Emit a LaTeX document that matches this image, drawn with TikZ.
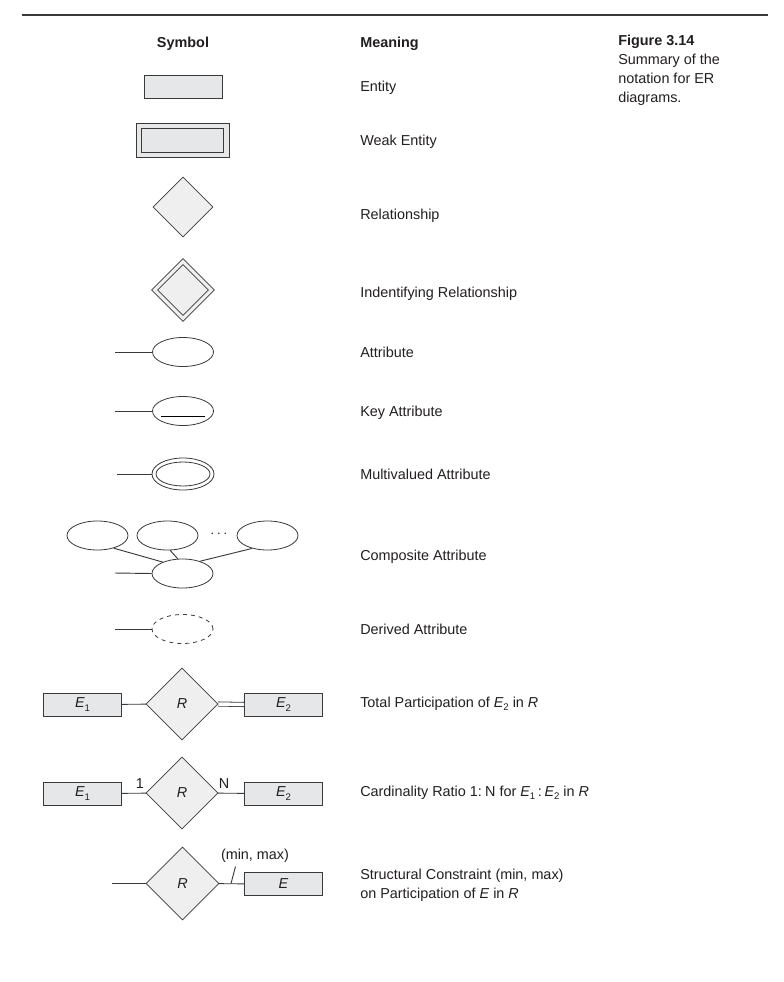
\documentclass[tikz,border=0pt]{standalone}
\usepackage{fontspec}
\setmainfont{Liberation Sans}
\usetikzlibrary{shapes.geometric}
\definecolor{efill}{HTML}{E6E7E8}
\definecolor{dfill}{HTML}{EFEFEF}
\definecolor{ln}{HTML}{3A3A3A}
\definecolor{txt}{HTML}{231F20}
\newcommand{\Ei}[1]{\textit{E}\kern-0.2pt\raisebox{-0.45ex}{\fontsize{7.2}{8}\selectfont #1}}
\begin{document}
\begin{tikzpicture}[x=0.75pt, y=-0.75pt,
  font=\fontsize{10.8}{14.25}\selectfont, text=txt,
  ent/.style={draw=ln, fill=efill, line width=0.7pt, minimum width=78*0.75pt, minimum height=23*0.75pt, inner sep=0},
  rel/.style={diamond, draw=ln, fill=dfill, line width=0.6pt, minimum width=60*0.75pt, minimum height=60*0.75pt, inner sep=0},
  att/.style={ellipse, draw=ln, fill=white, line width=0.6pt, minimum width=61*0.75pt, minimum height=29*0.75pt, inner sep=0},
  lab/.style={anchor=mid west, inner sep=0, yshift=-1.5pt},
  conn/.style={draw=ln, line width=0.7pt}]
\useasboundingbox (0,0) rectangle (784,982);
\fill[white] (0,0) rectangle (784,982);
% top rule
\coordinate (r1) at (22,15); \coordinate (r2) at (768,15);
\draw[line width=0.8pt, draw=ln] (r1) -- (r2);
% headers
\node[inner sep=0, anchor=mid, yshift=-1.5pt] (hsym) at (183,42) {\textbf{Symbol}};
\node[lab] (hmean) at (360,42) {\textbf{Meaning}};
\node[lab] (fig1) at (618,40) {\textbf{Figure 3.14}};
\node[lab] (fig2) at (618,59) {Summary of the};
\node[lab] (fig3) at (618,78) {notation for ER};
\node[lab] (fig4) at (618,97) {diagrams.};
% entity
\node[ent] (ent) at (183,86.5) {};
\node[lab] (mEnt) at (360,86) {Entity};
% weak entity
\node[ent, minimum width=93*0.75pt, minimum height=34*0.75pt] (wk) at (182.5,140) {};
\node[ent, minimum width=82*0.75pt, minimum height=24*0.75pt] (wki) at (wk) {};
\node[lab] (mWk) at (360,140) {Weak Entity};
% relationship
\node[rel] (rl) at (183,207) {};
\node[lab] (mRl) at (360,214) {Relationship};
% identifying relationship
\node[rel, minimum width=63*0.75pt, minimum height=63*0.75pt] (ir) at (183,290) {};
\node[rel, minimum width=51*0.75pt, minimum height=51*0.75pt] (iri) at (ir) {};
\node[lab] (mIr) at (360,292) {Indentifying Relationship};
% attribute
\node[att] (at1) at (183,352) {};
\coordinate (at1s) at (115,352);
\draw[conn] (at1s) -- (at1.west);
\node[lab] (mAt) at (360,352) {Attribute};
% key attribute
\node[att] (ka) at (183,411) {};
\coordinate (kas) at (115,411);
\draw[conn] (kas) -- (ka.west);
\draw[line width=0.9pt, draw=black] ([shift={(-22,5.5)}]ka.center) -- ([shift={(22,5.5)}]ka.center);
\node[lab] (mKa) at (360,411) {Key Attribute};
% multivalued
\node[att, minimum width=62*0.75pt, minimum height=32*0.75pt] (mv) at (183,474) {};
\node[att, minimum width=54*0.75pt, minimum height=24*0.75pt] (mvi) at (mv) {};
\coordinate (mvs) at (117,474);
\draw[conn] (mvs) -- (mv.west);
\node[lab] (mMv) at (360,474) {Multivalued Attribute};
% composite
\node[att] (cA) at (97.5,535.5) {};
\node[att] (cB) at (167.5,535.5) {};
\node[att] (cC) at (267.5,535.5) {};
\node[att] (cM) at (182.5,573.5) {};
\node[inner sep=0] (dots) at (219,534) {$\cdots$};
\coordinate (cs) at (115,573);
\draw[conn] (cs) -- (cM.west);
\draw[conn] (cA.-38) -- (cM.150);
\draw[conn] (cB.-80) -- (cM.108);
\draw[conn] (cC.-140) -- (cM.35);
\node[lab] (mCo) at (360,555) {Composite Attribute};
% derived
\node[att, dashed] (dv) at (182.5,629) {};
\coordinate (dvs) at (115,629);
\draw[conn] (dvs) -- (dv.west);
\node[lab] (mDv) at (360,629) {Derived Attribute};
% total participation
\node[ent] (e1a) at (82.5,704.5) {\Ei{1}};
\node[rel, minimum width=72*0.75pt, minimum height=72*0.75pt] (ra) at (182,704) {\textit{R}};
\node[ent] (e2a) at (283.5,704.5) {\Ei{2}};
\draw[conn] (e1a) -- (ra);
\draw[draw=ln, line width=0.6pt, double=white, double distance=2.6pt] (ra.east) -- (e2a.west);
\node[lab] (mTp) at (360,702) {Total Participation of \Ei{2} in \textit{R}};
% cardinality
\node[ent] (e1b) at (82.5,793.5) {\Ei{1}};
\node[rel, minimum width=72*0.75pt, minimum height=72*0.75pt] (rb) at (182,793) {\textit{R}};
\node[ent] (e2b) at (283.5,793.5) {\Ei{2}};
\draw[conn] (e1b) -- (rb);
\draw[conn] (rb) -- (e2b);
\node[inner sep=0] (one) at (140,784) {1};
\node[inner sep=0] (enn) at (224,784) {N};
\node[lab] (mCr) at (360,791) {Cardinality Ratio 1:\kern2.5pt N for \Ei{1}\kern2pt:\kern2pt\Ei{2} in \textit{R}};
% structural constraint
\node[rel, minimum width=73*0.75pt, minimum height=73*0.75pt] (rc) at (182.5,883.5) {\textit{R}};
\node[ent] (ec) at (283.5,884) {\textit{E}};
\coordinate (rcs) at (112,883.5);
\draw[conn] (rcs) -- (rc.west);
\draw[conn] (rc) -- (ec);
\node[inner sep=0] (mm) at (255,856) {(min, max)};
\coordinate (tk1) at (235.5,866.5);
\coordinate (tk2) at (231,883.5);
\draw[conn] (tk1) -- (tk2);
\node[lab] (mSc1) at (360,874) {Structural Constraint (min, max)};
\node[lab] (mSc2) at (360,893) {on Participation of \textit{E} in \textit{R}};
\end{tikzpicture}
\end{document}
